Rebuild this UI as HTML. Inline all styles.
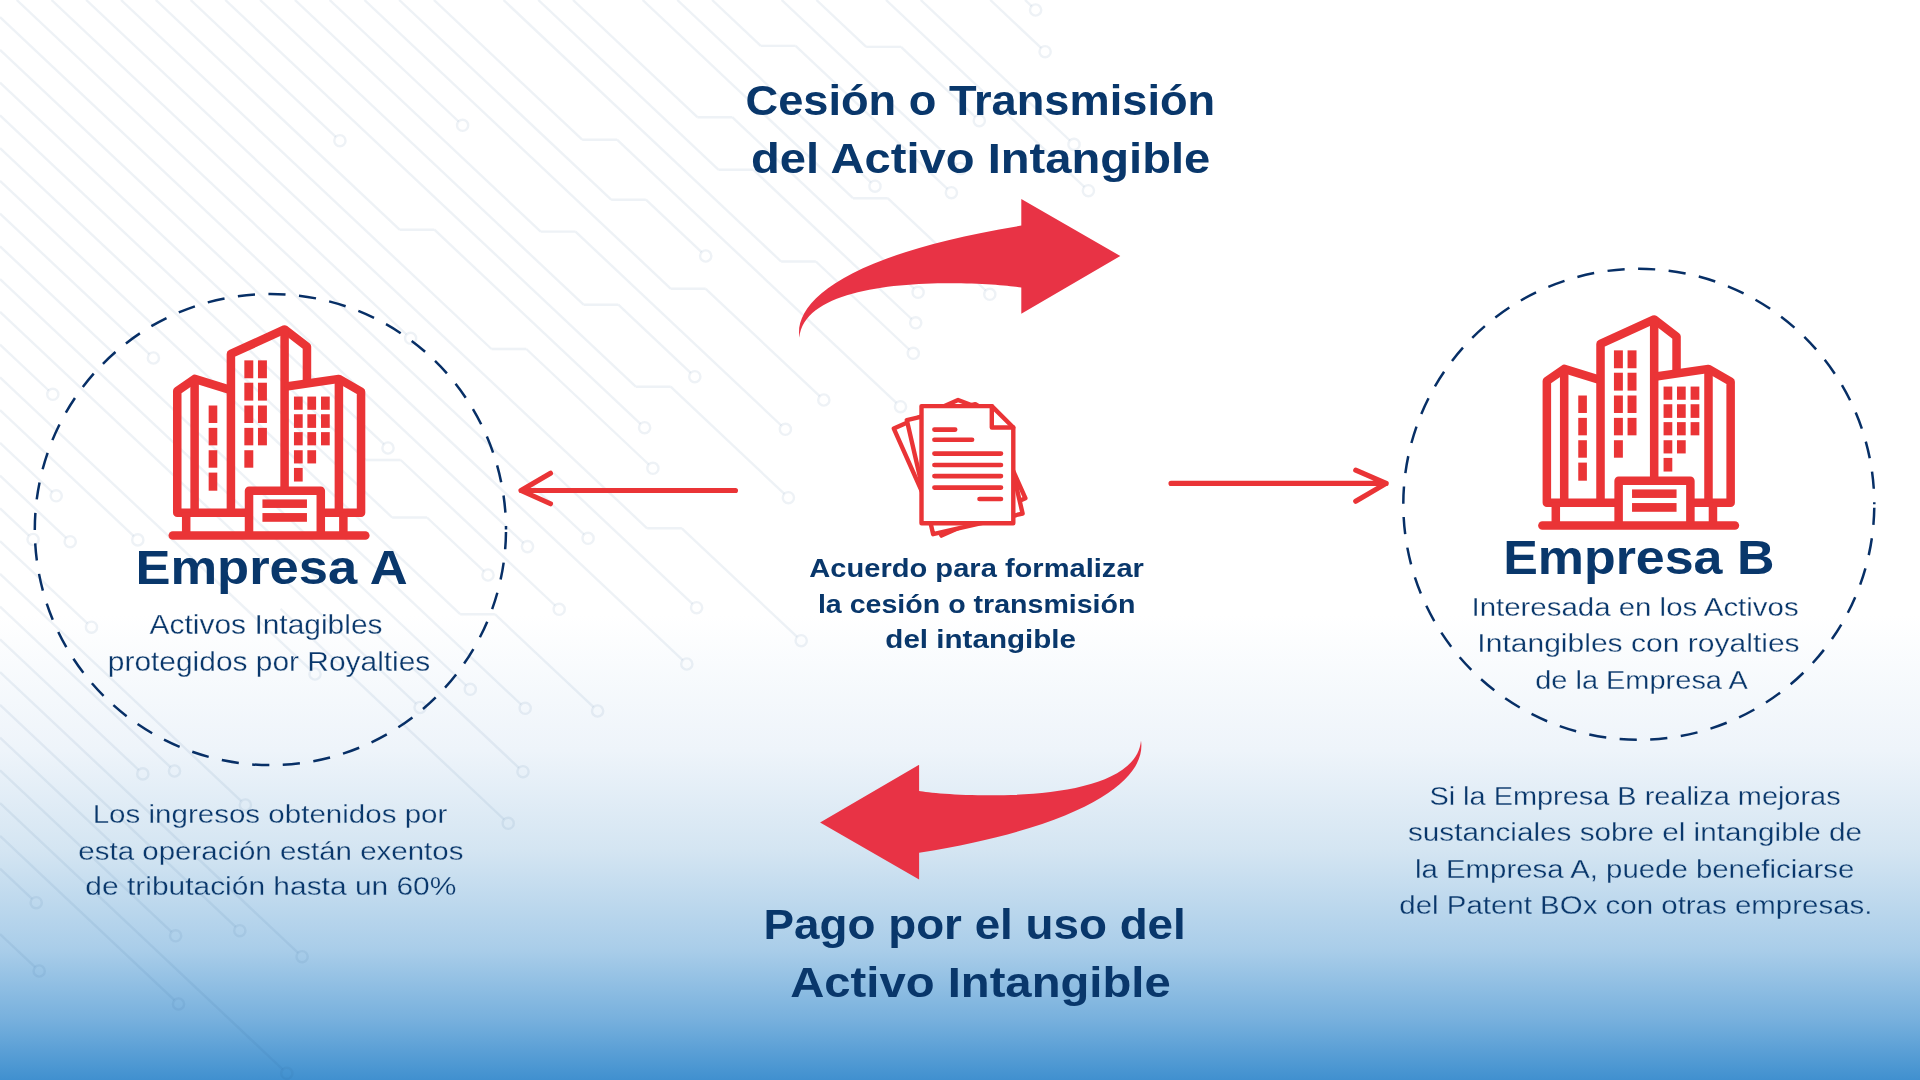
<!DOCTYPE html>
<html><head><meta charset="utf-8">
<style>
html,body{margin:0;padding:0;width:1920px;height:1080px;overflow:hidden;}
body{background:linear-gradient(to bottom,#ffffff 0px,#ffffff 615px,#eef4fa 750px,#d4e5f2 850px,#a9cde9 950px,#77b0dd 1020px,#4090cf 1080px);}
svg{position:absolute;left:0;top:0;will-change:transform;}
text{font-family:"Liberation Sans",sans-serif;fill:#09376b;stroke:url(#bgg);stroke-width:0.3px;}
text[font-weight="700"]{stroke:none;}
</style></head><body>
<svg width="1920" height="1080" viewBox="0 0 1920 1080">
<defs>
<linearGradient id="bgg" gradientUnits="userSpaceOnUse" x1="0" y1="0" x2="0" y2="1080">
 <stop offset="0" stop-color="#ffffff"/><stop offset="0.5694" stop-color="#ffffff"/><stop offset="0.6944" stop-color="#eef4fa"/>
 <stop offset="0.7870" stop-color="#d4e5f2"/><stop offset="0.8796" stop-color="#a9cde9"/><stop offset="0.9444" stop-color="#77b0dd"/><stop offset="1" stop-color="#4090cf"/>
</linearGradient>
</defs>

<g fill="none" stroke="rgb(42,92,142)" stroke-opacity="0.08" stroke-width="2.4" stroke-linejoin="round"><path d="M1025.0 0.0L1031.6 6.2M712.1 0.0L760.8 45.9M816.4 0.0L866.2 46.9M990.3 0.0L1041.1 47.9M573.0 0.0L697.4 117.2M901.0 46.9L975.2 116.9M329.6 0.0L458.6 121.5M433.9 0.0L582.2 139.7M190.6 0.0L335.8 136.9M538.3 0.0L718.4 169.7M886.0 0.0L1084.3 186.9M795.6 45.9L947.4 188.9M642.6 0.0L853.0 198.2M677.3 0.0L870.9 182.4M399.2 0.0L611.2 199.7M155.8 0.0L399.6 229.7M294.9 0.0L540.7 231.6M645.9 199.7L701.6 252.2M364.4 0.0L670.9 288.8M732.2 117.2L914.0 288.5M887.7 198.2L985.7 290.5M260.1 0.0L583.6 304.7M51.5 0.0L406.5 334.5M503.5 0.0L781.1 261.5M815.9 261.5L909.2 349.5M0.0 213.5L149.3 354.2M618.3 304.7L690.7 372.9M225.3 0.0L635.8 386.7M0.0 344.6L48.7 390.5M705.7 288.8L819.7 396.2M617.0 139.7L896.4 402.9M434.4 229.7L640.5 423.9M575.5 231.6L781.3 425.5M0.0 115.3L365.9 460.0M0.0 82.5L383.9 444.2M121.0 0.0L491.5 349.0M526.3 349.0L648.8 464.5M670.6 386.7L784.4 493.9M86.2 0.0L647.1 528.3M16.7 0.0L584.1 534.5M0.0 475.6L66.1 537.9M0.0 148.0L392.2 517.5M427.0 517.5L483.9 571.2M553.6 473.0L692.5 603.9M400.7 460.0L555.1 605.5M681.8 528.3L797.1 636.9M0.0 17.0L682.7 660.2M0.0 377.3L310.9 670.2M0.0 246.3L466.2 685.5M339.3 533.1L521.1 704.5M0.0 180.8L460.2 614.2M494.9 614.2L593.6 707.2M0.0 606.6L170.5 767.2M0.0 279.0L518.9 767.9M0.0 573.8L241.3 801.2M280.5 608.8L504.1 819.5M0.0 868.6L32.1 898.9M0.0 704.8L235.7 926.9M0.0 672.1L298.1 952.9M0.0 934.1L35.1 967.2M0.0 835.9L174.4 1000.2M0.0 803.1L282.8 1069.5M0.0 770.3L171.5 931.9M0.0 737.6L155.8 884.4M0.0 639.3L138.7 770.0M0.0 541.1L87.4 623.4M0.0 508.3L29.0 535.6M0.0 442.8L52.2 492.0M0.0 410.1L133.8 536.1M0.0 311.8L416.0 703.7M0.0 49.8L523.4 542.8M753.2 169.7L911.6 319.0M781.6 0.0L956.7 164.9M920.7 0.0L1069.9 140.5M760.8 45.9H795.6M866.2 46.9H901.0M697.4 117.2H732.2M582.2 139.7H617.0M718.4 169.7H753.2M853.0 198.2H887.7M611.2 199.7H645.9M399.6 229.7H434.4M540.7 231.6H575.5M670.9 288.8H705.7M583.6 304.7H618.3M781.1 261.5H815.9M635.8 386.7H670.6M365.9 460.0H400.7M491.5 349.0H526.3M647.1 528.3H681.8M392.2 517.5H427.0M460.2 614.2H494.9"/><circle cx="1035.6" cy="10.0" r="5.6"/><circle cx="1045.1" cy="51.7" r="5.6"/><circle cx="979.3" cy="120.7" r="5.6"/><circle cx="462.6" cy="125.3" r="5.6"/><circle cx="339.9" cy="140.7" r="5.6"/><circle cx="1088.4" cy="190.7" r="5.6"/><circle cx="951.4" cy="192.7" r="5.6"/><circle cx="875.0" cy="186.2" r="5.6"/><circle cx="705.7" cy="256.0" r="5.6"/><circle cx="918.1" cy="292.3" r="5.6"/><circle cx="989.8" cy="294.3" r="5.6"/><circle cx="410.6" cy="338.3" r="5.6"/><circle cx="913.3" cy="353.3" r="5.6"/><circle cx="153.4" cy="358.0" r="5.6"/><circle cx="694.8" cy="376.7" r="5.6"/><circle cx="52.8" cy="394.3" r="5.6"/><circle cx="823.8" cy="400.0" r="5.6"/><circle cx="900.5" cy="406.7" r="5.6"/><circle cx="644.6" cy="427.7" r="5.6"/><circle cx="785.4" cy="429.3" r="5.6"/><circle cx="388.0" cy="448.0" r="5.6"/><circle cx="652.9" cy="468.3" r="5.6"/><circle cx="788.4" cy="497.7" r="5.6"/><circle cx="588.1" cy="538.3" r="5.6"/><circle cx="70.2" cy="541.7" r="5.6"/><circle cx="488.0" cy="575.0" r="5.6"/><circle cx="696.6" cy="607.7" r="5.6"/><circle cx="559.2" cy="609.3" r="5.6"/><circle cx="801.2" cy="640.7" r="5.6"/><circle cx="686.8" cy="664.0" r="5.6"/><circle cx="315.0" cy="674.0" r="5.6"/><circle cx="470.3" cy="689.3" r="5.6"/><circle cx="525.2" cy="708.3" r="5.6"/><circle cx="597.6" cy="711.0" r="5.6"/><circle cx="174.5" cy="771.0" r="5.6"/><circle cx="523.0" cy="771.7" r="5.6"/><circle cx="245.4" cy="805.0" r="5.6"/><circle cx="508.2" cy="823.3" r="5.6"/><circle cx="36.2" cy="902.7" r="5.6"/><circle cx="239.8" cy="930.7" r="5.6"/><circle cx="302.1" cy="956.7" r="5.6"/><circle cx="39.2" cy="971.0" r="5.6"/><circle cx="178.5" cy="1004.0" r="5.6"/><circle cx="286.8" cy="1073.3" r="5.6"/><circle cx="175.6" cy="935.8" r="5.6"/><circle cx="159.9" cy="888.2" r="5.6"/><circle cx="142.8" cy="773.9" r="5.6"/><circle cx="91.5" cy="627.2" r="5.6"/><circle cx="33.1" cy="539.5" r="5.6"/><circle cx="56.2" cy="495.8" r="5.6"/><circle cx="137.8" cy="539.9" r="5.6"/><circle cx="420.1" cy="707.5" r="5.6"/><circle cx="527.5" cy="546.6" r="5.6"/><circle cx="915.7" cy="322.8" r="5.6"/><circle cx="960.7" cy="168.7" r="5.6"/><circle cx="1074.0" cy="144.4" r="5.6"/></g>
<!-- dashed circles -->
<g fill="none" stroke="#072f66" stroke-width="2.5" stroke-dasharray="17.2 13.5">
 <circle cx="270.4" cy="529.5" r="235.6" stroke-dashoffset="-2.6"/>
 <circle cx="1638.8" cy="504.3" r="235.5" stroke-dashoffset="-3.4"/>
</g>

<!-- buildings -->
<g transform="translate(160 315) scale(0.21297)">
 <g fill="none" stroke="#ea3436" stroke-width="40" stroke-linejoin="round">
  <path d="M418 929 L81 929 L81 357 L162.5 300 L333 353"/>
  <path d="M162.5 300 L162.5 929"/>
  <path d="M333 929 L333 183 L585 68 L690 148 L690 322"/>
  <path d="M585 68 L585 825"/>
  <path d="M585 337 L840 300 L944 360 L944 929 L755 929"/>
  <path d="M840 300 L840 929"/>
  <path d="M123 929 L123 1035"/>
  <path d="M861 929 L861 1035"/>
  <path d="M418 1035 L418 825 L755 825 L755 1035"/>
  <path d="M60 1035 L964 1035" stroke-linecap="round"/>
 </g>
 <g fill="#ea3436">
  <rect x="228.5" y="425" width="40.5" height="82"/>
  <rect x="228.5" y="530" width="40.5" height="82"/>
  <rect x="228.5" y="635" width="40.5" height="82"/>
  <rect x="228.5" y="740" width="40.5" height="85"/>
  <rect x="396" y="213" width="42" height="84"/>
  <rect x="460" y="213" width="42" height="84"/>
  <rect x="396" y="318" width="42" height="84"/>
  <rect x="460" y="318" width="42" height="84"/>
  <rect x="396" y="425" width="42" height="82"/>
  <rect x="460" y="425" width="42" height="82"/>
  <rect x="396" y="530" width="42" height="82"/>
  <rect x="460" y="530" width="42" height="82"/>
  <rect x="396" y="635" width="42" height="82"/>
  <rect x="629" y="383" width="41" height="62"/>
  <rect x="692" y="383" width="41" height="62"/>
  <rect x="756" y="383" width="41" height="62"/>
  <rect x="629" y="466" width="41" height="64"/>
  <rect x="692" y="466" width="41" height="64"/>
  <rect x="756" y="466" width="41" height="64"/>
  <rect x="629" y="550" width="41" height="62"/>
  <rect x="692" y="550" width="41" height="62"/>
  <rect x="756" y="550" width="41" height="62"/>
  <rect x="629" y="635" width="41" height="62"/>
  <rect x="692" y="635" width="41" height="62"/>
  <rect x="629" y="718" width="41" height="64"/>
  <rect x="481" y="866" width="209" height="40"/>
  <rect x="481" y="930" width="209" height="41"/>
 </g>
</g>
<g transform="translate(1529.6 305) scale(0.21297)">
 <g fill="none" stroke="#ea3436" stroke-width="40" stroke-linejoin="round">
  <path d="M418 929 L81 929 L81 357 L162.5 300 L333 353"/>
  <path d="M162.5 300 L162.5 929"/>
  <path d="M333 929 L333 183 L585 68 L690 148 L690 322"/>
  <path d="M585 68 L585 825"/>
  <path d="M585 337 L840 300 L944 360 L944 929 L755 929"/>
  <path d="M840 300 L840 929"/>
  <path d="M123 929 L123 1035"/>
  <path d="M861 929 L861 1035"/>
  <path d="M418 1035 L418 825 L755 825 L755 1035"/>
  <path d="M60 1035 L964 1035" stroke-linecap="round"/>
 </g>
 <g fill="#ea3436">
  <rect x="228.5" y="425" width="40.5" height="82"/>
  <rect x="228.5" y="530" width="40.5" height="82"/>
  <rect x="228.5" y="635" width="40.5" height="82"/>
  <rect x="228.5" y="740" width="40.5" height="85"/>
  <rect x="396" y="213" width="42" height="84"/>
  <rect x="460" y="213" width="42" height="84"/>
  <rect x="396" y="318" width="42" height="84"/>
  <rect x="460" y="318" width="42" height="84"/>
  <rect x="396" y="425" width="42" height="82"/>
  <rect x="460" y="425" width="42" height="82"/>
  <rect x="396" y="530" width="42" height="82"/>
  <rect x="460" y="530" width="42" height="82"/>
  <rect x="396" y="635" width="42" height="82"/>
  <rect x="629" y="383" width="41" height="62"/>
  <rect x="692" y="383" width="41" height="62"/>
  <rect x="756" y="383" width="41" height="62"/>
  <rect x="629" y="466" width="41" height="64"/>
  <rect x="692" y="466" width="41" height="64"/>
  <rect x="756" y="466" width="41" height="64"/>
  <rect x="629" y="550" width="41" height="62"/>
  <rect x="692" y="550" width="41" height="62"/>
  <rect x="756" y="550" width="41" height="62"/>
  <rect x="629" y="635" width="41" height="62"/>
  <rect x="692" y="635" width="41" height="62"/>
  <rect x="629" y="718" width="41" height="64"/>
  <rect x="481" y="866" width="209" height="40"/>
  <rect x="481" y="930" width="209" height="41"/>
 </g>
</g>

<!-- straight arrows -->
<g fill="none" stroke="#ea3436" stroke-width="5.1" stroke-linecap="round" stroke-linejoin="round">
 <path d="M735.5 490.5 L521 490.5 M550.5 473.3 L521 490.5 L550.5 503.8"/>
 <path d="M1171 483.4 L1386.2 483.4 M1355.7 470.2 L1386.2 483.4 L1355.7 501.3"/>
</g>

<!-- curved arrows -->
<path fill="#e83345" d="M799.4 337.7 C793.9 301.8 845.2 254.3 1021.3 225.6 L1021.3 199 L1120.3 256 L1021.3 313.75 L1021.3 287.5 C999.2 283.2 806.2 268.2 799.4 337.7 Z"/>
<path fill="#e83345" transform="rotate(180 970.2 539.2)" d="M799.4 337.7 C793.9 301.8 845.2 254.3 1021.3 225.6 L1021.3 199 L1120.3 256 L1021.3 313.75 L1021.3 287.5 C999.2 283.2 806.2 268.2 799.4 337.7 Z"/>

<!-- documents -->
<g stroke="#ea3436" stroke-width="4.4" stroke-linejoin="round" stroke-linecap="round">
 <path fill="#fff" transform="translate(959.6 463.4) rotate(-24)" d="M-45.9 -58.6 L24.4 -58.6 L45.9 -37.2 L45.9 58.6 L-45.9 58.6 Z"/>
 <path fill="#fff" transform="translate(964.7 466.8) rotate(-13)" d="M-45.9 -58.6 L24.4 -58.6 L45.9 -37.2 L45.9 58.6 L-45.9 58.6 Z"/>
 <path fill="#fff" transform="translate(967.4 464.7)" d="M-45.9 -58.6 L24.4 -58.6 L45.9 -37.2 L45.9 58.6 L-45.9 58.6 Z"/>
 <path fill="none" d="M991.8 406.1 L991.8 427.5 L1013.3 427.5"/>
 <g stroke-width="4.6" fill="none">
  <path d="M934.4 429.6 L955.2 429.6 M934.4 439.7 L972.1 439.7 M934.4 453.6 L1001 453.6 M934.4 465 L1001 465 M934.4 476.1 L1001 476.1 M934.4 487.6 L1001 487.6 M979.5 499 L1001 499"/>
 </g>
</g>

<!-- text -->
<text x="745.49" y="115.30" font-size="42.29" font-weight="700" textLength="469.70" lengthAdjust="spacingAndGlyphs">Cesión o Transmisión</text>
<text x="751.03" y="173.00" font-size="42.29" font-weight="700" textLength="459.34" lengthAdjust="spacingAndGlyphs">del Activo Intangible</text>
<text x="135.44" y="584.20" font-size="48.57" font-weight="700" textLength="272.25" lengthAdjust="spacingAndGlyphs">Empresa A</text>
<text x="149.60" y="634.00" font-size="27.03" font-weight="400" textLength="232.94" lengthAdjust="spacingAndGlyphs">Activos Intagibles</text>
<text x="107.83" y="670.90" font-size="27.03" font-weight="400" textLength="322.50" lengthAdjust="spacingAndGlyphs">protegidos por Royalties</text>
<text x="92.69" y="822.80" font-size="26.16" font-weight="400" textLength="354.65" lengthAdjust="spacingAndGlyphs">Los ingresos obtenidos por</text>
<text x="78.38" y="859.60" font-size="26.16" font-weight="400" textLength="385.04" lengthAdjust="spacingAndGlyphs">esta operación están exentos</text>
<text x="85.36" y="895.40" font-size="26.16" font-weight="400" textLength="371.03" lengthAdjust="spacingAndGlyphs">de tributación hasta un 60%</text>
<text x="809.30" y="576.90" font-size="26.29" font-weight="700" textLength="334.62" lengthAdjust="spacingAndGlyphs">Acuerdo para formalizar</text>
<text x="817.91" y="612.50" font-size="26.29" font-weight="700" textLength="317.57" lengthAdjust="spacingAndGlyphs">la cesión o transmisión</text>
<text x="885.33" y="648.10" font-size="26.29" font-weight="700" textLength="190.66" lengthAdjust="spacingAndGlyphs">del intangible</text>
<text x="1503.16" y="573.80" font-size="47.86" font-weight="700" textLength="271.24" lengthAdjust="spacingAndGlyphs">Empresa B</text>
<text x="1471.46" y="616.00" font-size="26.16" font-weight="400" textLength="327.15" lengthAdjust="spacingAndGlyphs">Interesada en los Activos</text>
<text x="1477.35" y="651.60" font-size="26.16" font-weight="400" textLength="322.29" lengthAdjust="spacingAndGlyphs">Intangibles con royalties</text>
<text x="1535.20" y="688.60" font-size="26.16" font-weight="400" textLength="212.56" lengthAdjust="spacingAndGlyphs">de la Empresa A</text>
<text x="1429.40" y="805.10" font-size="26.16" font-weight="400" textLength="411.21" lengthAdjust="spacingAndGlyphs">Si la Empresa B realiza mejoras</text>
<text x="1407.94" y="840.80" font-size="26.16" font-weight="400" textLength="454.17" lengthAdjust="spacingAndGlyphs">sustanciales sobre el intangible de</text>
<text x="1414.97" y="877.60" font-size="26.16" font-weight="400" textLength="439.42" lengthAdjust="spacingAndGlyphs">la Empresa A, puede beneficiarse</text>
<text x="1399.28" y="914.10" font-size="26.16" font-weight="400" textLength="473.18" lengthAdjust="spacingAndGlyphs">del Patent BOx con otras empresas.</text>
<text x="763.54" y="939.20" font-size="42.00" font-weight="700" textLength="422.27" lengthAdjust="spacingAndGlyphs">Pago por el uso del</text>
<text x="790.26" y="996.60" font-size="42.00" font-weight="700" textLength="380.41" lengthAdjust="spacingAndGlyphs">Activo Intangible</text>
</svg>
</body></html>
